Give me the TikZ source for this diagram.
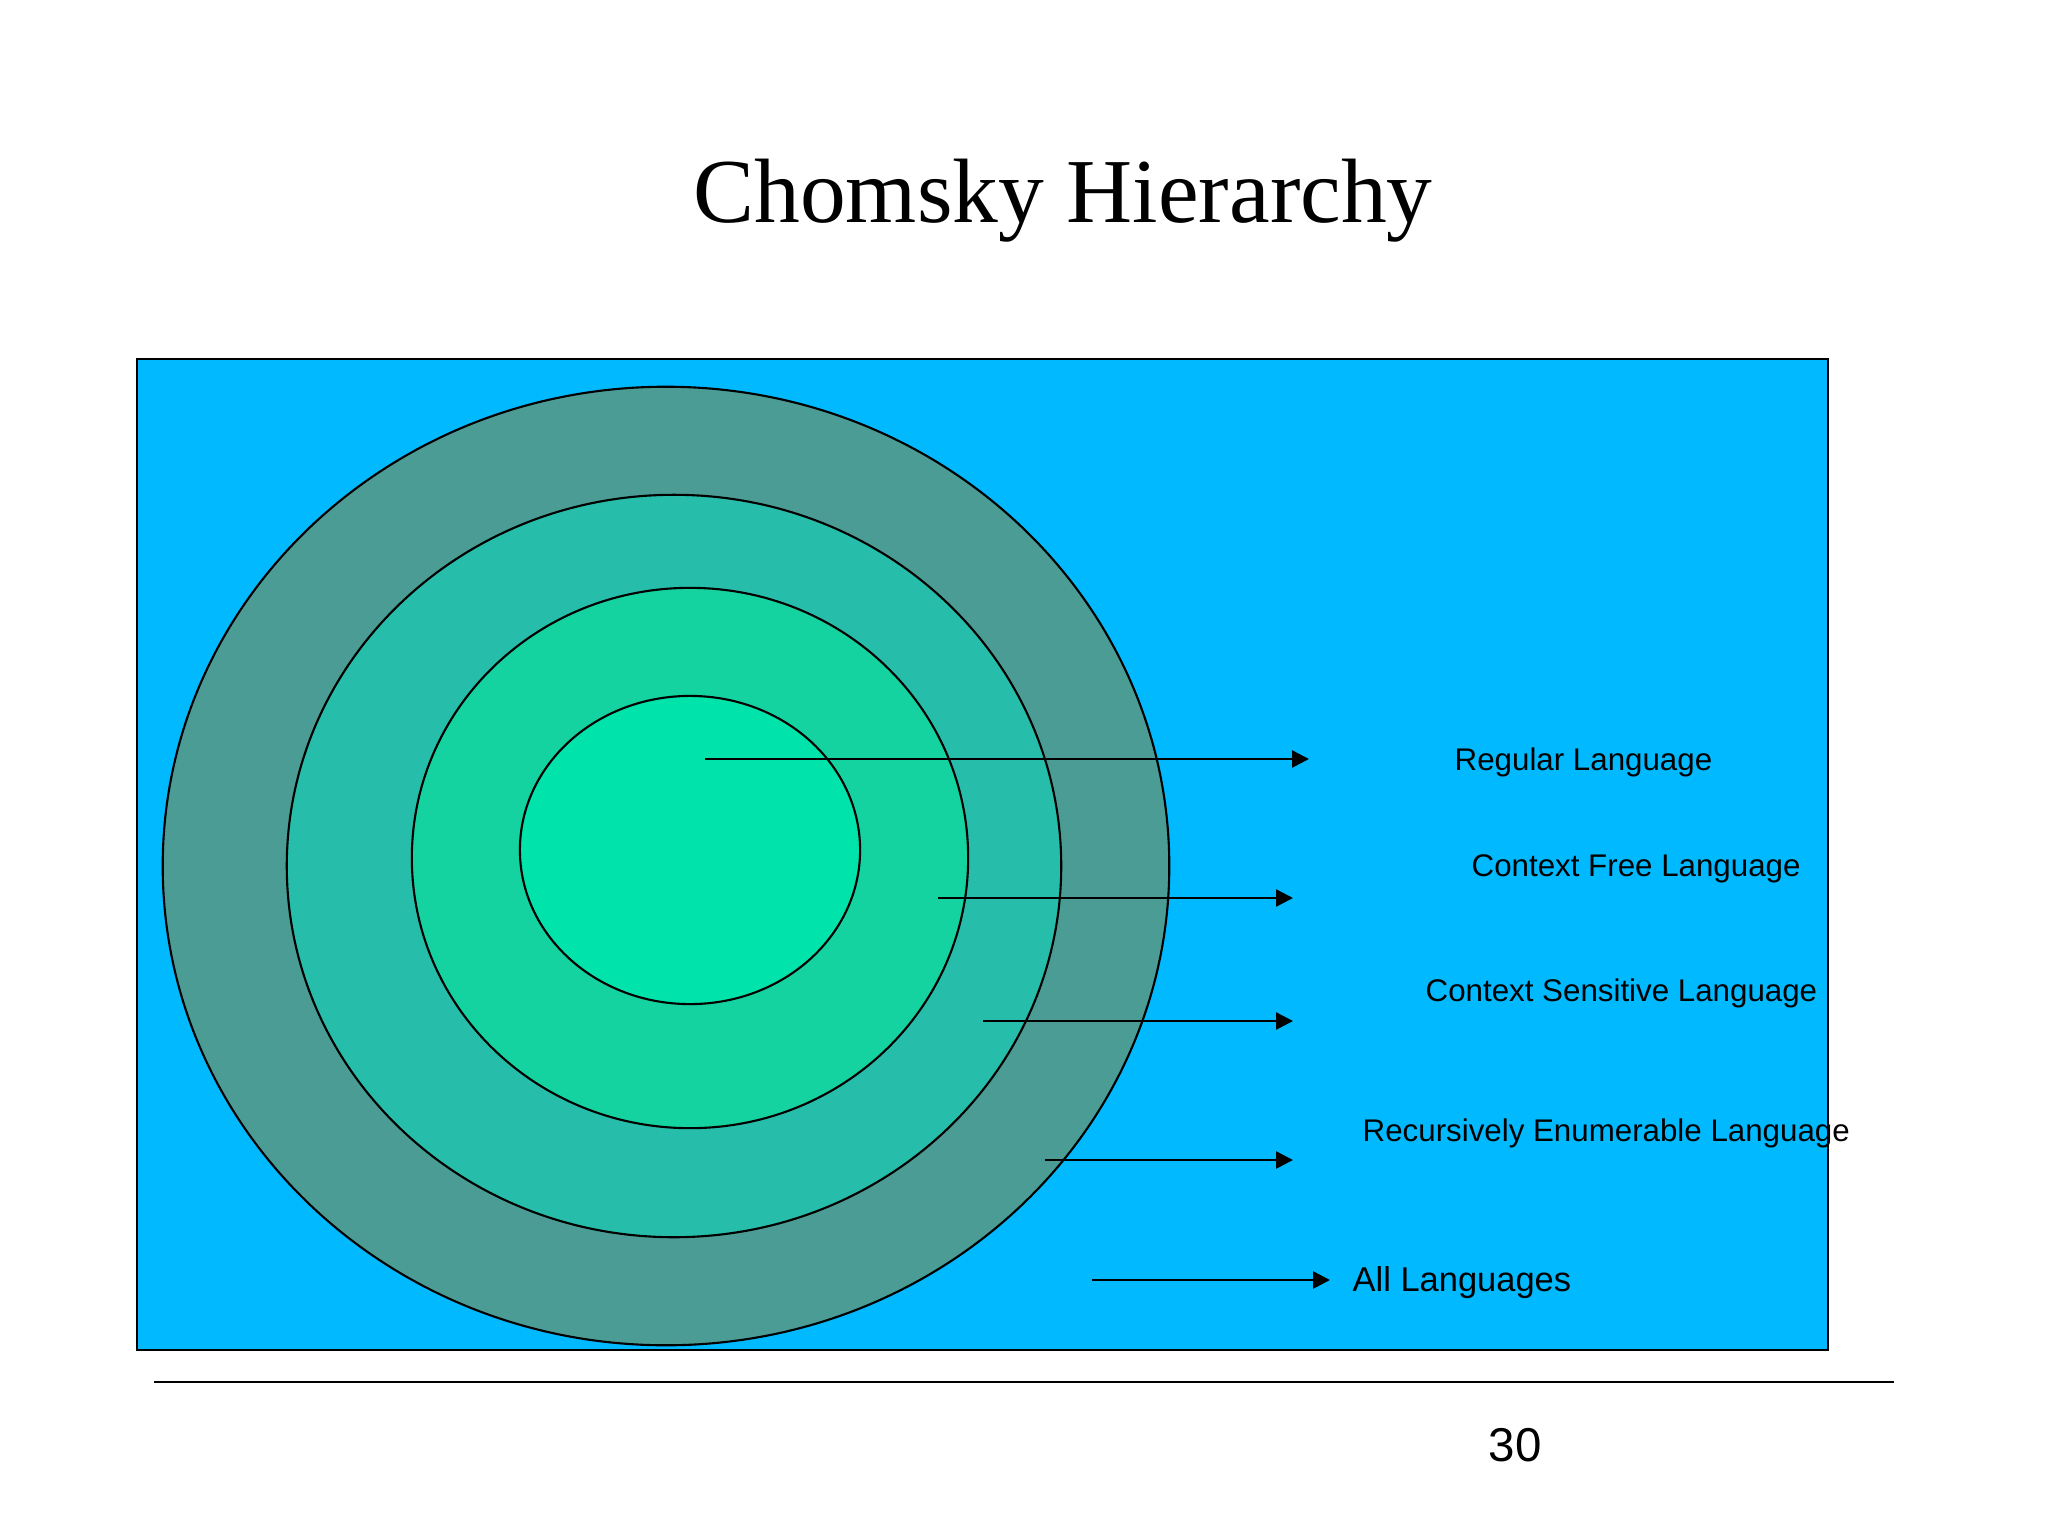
\documentclass[tikz,border=0pt]{standalone}
\usepackage{fontspec}
\setmainfont{Liberation Sans}
\newfontfamily\titlefont{Liberation Serif}
\usepackage{tikz}
\usetikzlibrary{shapes.geometric, arrows.meta, positioning}
\definecolor{skyblue1}{RGB}{0, 185, 255}
\definecolor{ringgray}{RGB}{74, 156, 148}
\definecolor{ringteal}{RGB}{38, 190, 170}
\definecolor{ringgreen}{RGB}{20, 211, 160}
\definecolor{coremint}{RGB}{0, 227, 170}
\tikzset{
  langset/.style={ellipse, draw=black, line width=0.6pt, inner sep=0pt},
  langlabel/.style={anchor=west, inner sep=0pt, font=\fontsize{8.9}{10}\selectfont},
  langarrow/.style={-{Triangle[length=4.8pt, width=4.8pt]}, line width=0.7pt}
}
\begin{document}
\begin{tikzpicture}[x=0.01cm, y=-0.01cm]
  \useasboundingbox (0,0) rectangle (2048,1536);

  % Title
  \node[font=\titlefont\fontsize{26}{30}\selectfont] (title) at (1063, 201) {Chomsky Hierarchy};

  % Background box
  \node[draw=black, fill=skyblue1, line width=0.6pt, minimum width=16.9cm, minimum height=9.9cm, inner sep=0pt, anchor=north west] (frame) at (136, 358) {};

  % Nested language sets
  \node[langset, fill=ringgray, minimum width=10.06cm, minimum height=9.58cm] (alllang) at (666, 866) {};
  \node[langset, fill=ringteal, minimum width=7.74cm, minimum height=7.42cm] (relang) at (674, 866) {};
  \node[langset, fill=ringgreen, minimum width=5.56cm, minimum height=5.4cm] (cslang) at (690, 858) {};
  \node[langset, fill=coremint, minimum width=3.4cm, minimum height=3.08cm] (reglang) at (690, 850) {};

  % Labels
  \node[langlabel] (reglabel) at (1454, 762) {Regular Language};
  \node[langlabel] (cflabel) at (1471, 869) {Context Free Language};
  \node[langlabel] (cslabel) at (1425, 993) {Context Sensitive Language};
  \node[langlabel] (relabel) at (1362, 1133) {Recursively Enumerable Language};
  \node[langlabel, font=\fontsize{9.8}{11}\selectfont] (alllabel) at (1352, 1283) {All Languages};

  % Arrows
  \coordinate (reg-s) at (705, 759);   \coordinate (reg-e) at (1309, 759);
  \coordinate (cf-s) at (938, 898);    \coordinate (cf-e) at (1293, 898);
  \coordinate (cs-s) at (983, 1021);   \coordinate (cs-e) at (1293, 1021);
  \coordinate (re-s) at (1045, 1160);  \coordinate (re-e) at (1293, 1160);
  \coordinate (all-s) at (1092, 1280); \coordinate (all-e) at (1330, 1280);
  \foreach \a in {reg, cf, cs, re, all}
    \draw[langarrow] (\a-s) -- (\a-e);

  % Footer
  \coordinate (rule-l) at (154, 1382);
  \coordinate (rule-r) at (1894, 1382);
  \draw[line width=0.6pt] (rule-l) -- (rule-r);
  \node[font=\fontsize{13.5}{16}\selectfont] (pagenum) at (1515, 1445) {30};
\end{tikzpicture}
\end{document}
